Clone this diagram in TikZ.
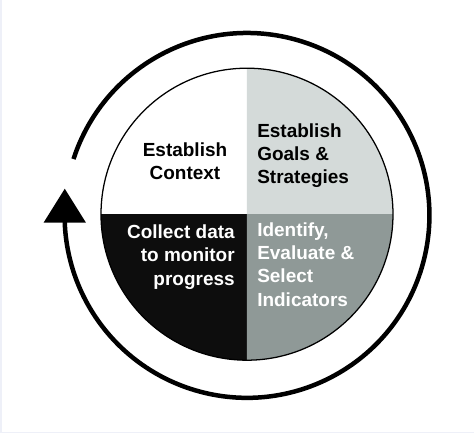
\documentclass[tikz,border=0pt]{standalone}
\usepackage{fontspec}
\setmainfont{Liberation Sans}
\usepackage{tikz}
\usetikzlibrary{arrows.meta}
\definecolor{QuadLight}{HTML}{D4DAD9}
\definecolor{QuadGray}{HTML}{8F9997}
\definecolor{QuadDark}{HTML}{0D0D0D}
\definecolor{EdgeTint}{HTML}{EEF0F8}
\tikzset{
  quadlabel/.style={inner sep=0pt, font=\fontsize{13.5}{16.5}\selectfont\bfseries},
  darklabel/.style={quadlabel, text=black},
  lightlabel/.style={quadlabel, text=white},
  cyclearrow/.style={line width=3.2pt, -{Triangle[length=0.85cm, width=1.03cm]}},
  rimline/.style={draw=black, line width=0.9pt}
}

\begin{document}
\begin{tikzpicture}
  \useasboundingbox (-6.175,-5.425) rectangle (5.675,5.425);
  \fill[white] (-6.175,-5.425) rectangle (5.675,5.425);
  \draw[EdgeTint, line width=1pt] (-6.15,5.425) -- (-6.15,-5.39) -- (5.675,-5.39);
  \coordinate (c) at (0,0.07);
  \coordinate (o) at (0,0.04);

  % Quadrants
  \fill[QuadLight] (c) -- ++(3.65,0) arc[start angle=0, end angle=90, radius=3.65] -- cycle;
  \fill[QuadDark] (c) -- ++(-3.65,0) arc[start angle=180, end angle=270, radius=3.65] -- cycle;
  \fill[QuadGray] (c) -- ++(0,-3.65) arc[start angle=270, end angle=360, radius=3.65] -- cycle;
  \draw[rimline] (c) circle[radius=3.65];

  % Outer cycle arrow
  \draw[cyclearrow] (o) ++(162:4.56) arc[start angle=162, end angle=-177.6, radius=4.56] -- ++(0,0.86);

  % Labels
  \node[darklabel, align=center] (context) at (-1.55,1.39) {Establish\\Context};
  \node[darklabel, align=left, anchor=west] (goals) at (0.25,1.54) {Establish\\Goals \&\\Strategies};
  \node[lightlabel, align=right, anchor=east] (collect) at (-0.3,-1.0) {Collect data\\to monitor\\progress};
  \node[lightlabel, align=left, anchor=west] (indicators) at (0.25,-1.19) {Identify,\\Evaluate \&\\Select\\Indicators};
\end{tikzpicture}
\end{document}
